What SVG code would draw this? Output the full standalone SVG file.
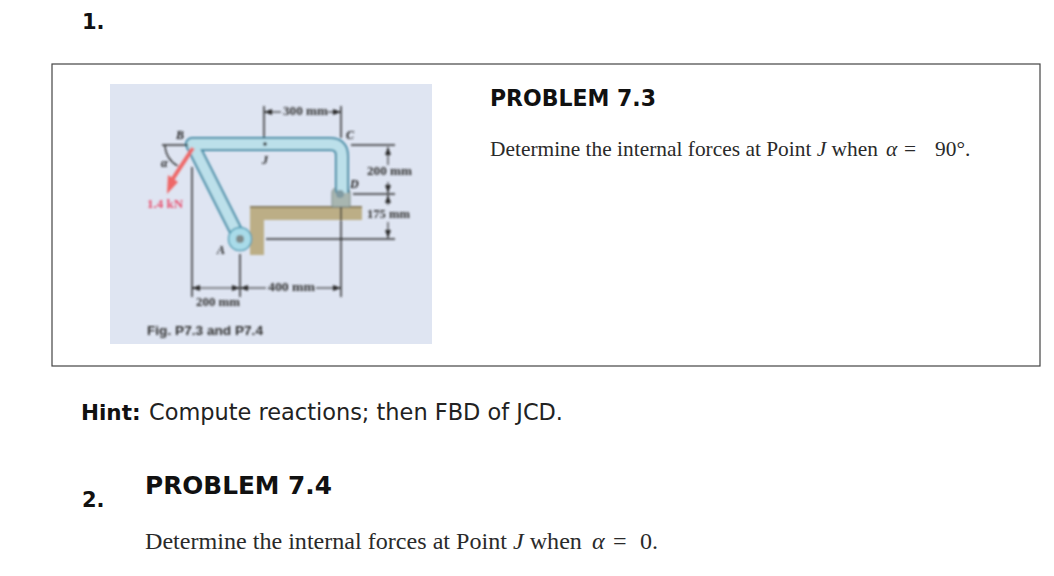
<svg xmlns="http://www.w3.org/2000/svg" width="1054" height="576" viewBox="0 0 1054 576">
<style>
.b{font-family:"DejaVu Sans",Verdana,sans-serif;font-weight:700;fill:#111}
.h{font-family:"DejaVu Sans",Verdana,sans-serif;fill:#222;font-size:22.5px}
.s{font-family:"Liberation Serif","Times New Roman",serif;fill:#2a2a2a}
.d{font-family:"Liberation Serif",serif;font-size:12px;fill:#333;font-weight:700}
.p{font-family:"Liberation Serif",serif;font-size:12px;fill:#222;font-style:italic;font-weight:700}
.l{stroke:#2b2b2b;stroke-width:1.4;fill:none}
.al{stroke:#2b2b2b;stroke-width:1.1;fill:none;marker-end:url(#a)}
</style>
<defs>
<filter id="bl" x="-5%" y="-5%" width="110%" height="110%"><feGaussianBlur stdDeviation="0.85"/></filter>
<marker id="a" viewBox="0 0 8 6" refX="8" refY="3" markerWidth="8" markerHeight="6" orient="auto" markerUnits="userSpaceOnUse"><path d="M0 0L8 3L0 6z" fill="#2b2b2b"/></marker>
</defs>
<rect width="1054" height="576" fill="#fff"/>
<text class="b" x="82" y="29" font-size="21">1.</text>
<rect id="frame" x="52" y="64" width="988" height="302" fill="#fff" stroke="#444" stroke-width="1.2"/>
<rect id="figure-panel" x="110" y="84" width="322" height="260" fill="#dfe5f2"/>
<g id="figure" filter="url(#bl)">
<path d="M250 207H362V220H264V255H250Z" fill="#bcae86"/>
<path d="M250 207H362" stroke="#6e5f3a" stroke-width="1.5" fill="none"/>
<path d="M332 207V193Q332 188 337 188H345Q350 188 350 193V207Z" fill="#a8b6b0" stroke="#7d8a86" stroke-width="1"/>
<path d="M240 239L192 144H330Q342 144 342 156V193" fill="none" stroke="#3f8ba6" stroke-width="14" stroke-linejoin="round"/>
<path d="M240 239L192 144H330Q342 144 342 156V193" fill="none" stroke="#bce0ea" stroke-width="10" stroke-linejoin="round"/>
<circle cx="240" cy="239" r="11.5" fill="#a9dbe9" stroke="#4b9ab2" stroke-width="1.4"/>
<circle cx="240" cy="239" r="4" fill="#808b8b"/>
<circle cx="340" cy="194" r="4" fill="#7f9aa2"/>
<g id="connectors">
<path class="l" d="M162 145H188M192 167V297M240 254V297M264 106V138M341 106V138M341 207V297M351 145H395M353 194H395M266 239H395"/>
<path class="al" d="M281 112H264"/><path class="al" d="M328 112H341"/>
<path class="al" d="M198 288H192"/><path class="al" d="M192 288H240"/>
<path class="al" d="M266 288H240"/><path class="al" d="M316 288H341"/>
<path class="al" d="M388 165V147"/><path class="al" d="M388 182V193"/>
<path class="al" d="M388 205V195"/><path class="al" d="M388 222V238"/>
<path d="M165 145A24 24 0 0 0 178 166" class="l"/>
</g>
<path d="M193 148L172 180" stroke="#ee6868" stroke-width="4"/>
<path d="M167 194L168 175L178 182Z" fill="#ee6868"/>
<circle cx="265" cy="144" r="1.8" fill="#222"/>
<text class="p" x="176" y="139">B</text><text class="p" x="346" y="139">C</text><text class="p" x="350" y="188">D</text><text class="p" x="262" y="164">J</text><text class="p" x="217" y="254">A</text><text class="p" x="161" y="167">α</text>
<text class="d" x="283" y="115" textLength="45" lengthAdjust="spacingAndGlyphs">300 mm</text>
<text class="d" x="367" y="175" textLength="45" lengthAdjust="spacingAndGlyphs">200 mm</text>
<text class="d" x="367" y="218" textLength="43" lengthAdjust="spacingAndGlyphs">175 mm</text>
<text class="d" x="268" y="291" textLength="47" lengthAdjust="spacingAndGlyphs">400 mm</text>
<text class="d" x="196" y="306" textLength="44" lengthAdjust="spacingAndGlyphs">200 mm</text>
<text x="147" y="208" font-family="Liberation Serif,serif" font-size="12" fill="#e8506e" font-weight="700" textLength="36" lengthAdjust="spacingAndGlyphs">1.4 kN</text>
<text x="147" y="335" font-family="Liberation Sans,sans-serif" font-size="13" font-weight="700" fill="#333" textLength="116" lengthAdjust="spacingAndGlyphs">Fig. P7.3 and P7.4</text>
</g>
<text class="b" x="490" y="106" font-size="23" textLength="166" lengthAdjust="spacingAndGlyphs">PROBLEM 7.3</text>
<text class="s" x="490" y="156" font-size="21.4">Determine the internal forces at Point <tspan font-style="italic">J</tspan> when</text>
<text class="s" x="886" y="156" font-size="21.4" font-style="italic" fill="#667">α</text>
<text class="s" x="904" y="156" font-size="21.4">=</text>
<text class="s" x="935" y="156" font-size="21.4">90°.</text>
<text class="b" x="81" y="420" font-size="21.5">Hint:</text>
<text class="h" x="149" y="420" textLength="414" lengthAdjust="spacingAndGlyphs">Compute reactions; then FBD of JCD.</text>
<text class="b" x="82" y="507" font-size="21">2.</text>
<text class="b" x="145" y="494" font-size="25" textLength="187" lengthAdjust="spacingAndGlyphs">PROBLEM 7.4</text>
<text class="s" x="145" y="549" font-size="24.1">Determine the internal forces at Point <tspan font-style="italic">J</tspan> when</text>
<text class="s" x="592" y="549" font-size="24.1" font-style="italic" fill="#667">α</text>
<text class="s" x="613" y="549" font-size="24.1">=</text>
<text class="s" x="640" y="549" font-size="24.1">0.</text>
</svg>
